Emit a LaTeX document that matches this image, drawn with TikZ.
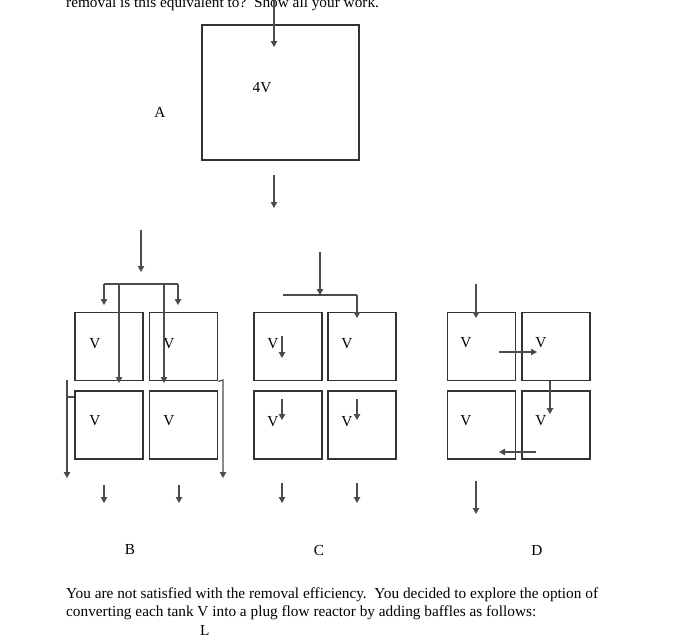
\documentclass[tikz,border=0pt]{standalone}
\usepackage{fontspec}
\setmainfont{Liberation Serif}
\usetikzlibrary{arrows.meta}

\begin{document}
\begin{tikzpicture}[
    x=1pt,y=-1pt,>={Triangle[length=6pt,width=6.5pt]},
    font=\fontsize{15.3}{18}\selectfont,
    tank/.style={draw=black!80,line width=1.8pt,inner sep=0pt,
      minimum width=68pt,minimum height=68pt},
    flow/.style={->,draw=black!70,line width=1.2pt},
    pipe/.style={draw=black!70,line width=1.2pt},
    vtext/.style={inner sep=0pt},
    caption/.style={inner sep=0pt,anchor=base west}
  ]
    \useasboundingbox (0,0) rectangle (700,637);

    % Question text, cut at the top of the page.
    \node[caption] (head) at (66,8) {removal is this equivalent to?\ \ Show all your work.};

    % Single tank A of volume 4V.
    \node[tank,minimum width=157pt,minimum height=135pt] (A) at (280.5,92.5) {};
    \node[vtext] (A v) at (262,88) {4V};
    \node[vtext] (A name) at (160,112) {A};
    \coordinate (A in) at (274,0);
    \coordinate (A feed) at (274,47);
    \coordinate (A out) at (274,175);
    \coordinate (A end) at (274,208);
    \draw[flow] (A in) -- (A feed);
    \draw[flow] (A out) -- (A end);

    % Arrangement B: the feed is split over the four tanks.
    \node[tank] (B1) at (109,346.5) {};
    \node[tank] (B2) at (183.5,346.5) {};
    \node[tank] (B3) at (109,425) {};
    \node[tank] (B4) at (183.5,425) {};
    \node[vtext] at (95,344) {V};
    \node[vtext] at (169,344) {V};
    \node[vtext] at (95,421) {V};
    \node[vtext] at (169,421) {V};
    \node[vtext] (B name) at (130,550) {B};

    \coordinate (B in) at (141,230);
    \coordinate (B feed) at (141,272);
    \coordinate (B l) at (104,284);
    \coordinate (B r) at (178,284);
    \coordinate (B la) at (119,284);
    \coordinate (B ra) at (164,284);
    \draw[flow] (B in) -- (B feed);
    \draw[pipe] (B l) -- (B r);
    \draw[flow] (B l) -- (104,305);
    \draw[flow] (B r) -- (178,305);
    \draw[flow] (B la) -- (119,383);
    \draw[flow] (B ra) -- (164,383);
    % outer collecting lines
    \draw[flow] (67,380) -- (67,478);
    \draw[pipe] (67,397) -- (B3.west |- 0,397);
    \draw[flow] (B2.south east) -- (223,380) -- (223,478);
    \draw[flow] (104,485) -- (104,503);
    \draw[flow] (179,485) -- (179,503);

    % Arrangement C: two trains in parallel.
    \node[tank] (C1) at (288,346.5) {};
    \node[tank] (C2) at (362,346.5) {};
    \node[tank] (C3) at (288,425) {};
    \node[tank] (C4) at (362,425) {};
    \node[vtext] at (273,344) {V};
    \node[vtext] at (347,344) {V};
    \node[vtext] at (273,422) {V};
    \node[vtext] at (347,422) {V};
    \node[vtext] (C name) at (319,550) {C};

    \coordinate (C in) at (320,252);
    \coordinate (C feed) at (320,295);
    \draw[flow] (C in) -- (C feed);
    \draw[pipe] (283,295) -- (357,295);
    \draw[flow] (357,295) -- (357,318);
    \draw[flow] (282,336) -- (282,358);
    \draw[flow] (282,399) -- (282,420);
    \draw[flow] (357,399) -- (357,420);
    \draw[flow] (282,483) -- (282,503);
    \draw[flow] (357,483) -- (357,503);

    % Arrangement D: four tanks in series.
    \node[tank] (D1) at (481.5,346.5) {};
    \node[tank] (D2) at (556,346.5) {};
    \node[tank] (D3) at (481.5,425) {};
    \node[tank] (D4) at (556,425) {};
    \node[vtext] at (466,343) {V};
    \node[vtext] at (541,343) {V};
    \node[vtext] at (466,421) {V};
    \node[vtext] at (541,421) {V};
    \node[vtext] (D name) at (537,550) {D};

    \draw[flow] (476,284) -- (476,318);
    \draw[flow] (499,352) -- (537,352);
    \draw[flow] (550,381) -- (550,414);
    \draw[flow] (536,452) -- (499,452);
    \draw[flow] (476,481) -- (476,514);

    % Text below the figure.
    \node[caption] (line1) at (66,598)
      {You are not satisfied with the removal efficiency.\ \ You decided to explore the option of};
    \node[caption] (line2) at (66,616)
      {converting each tank V into a plug flow reactor by adding baffles as follows:};
    \node[caption] (L) at (200,635) {L};
  \end{tikzpicture}
\end{document}
